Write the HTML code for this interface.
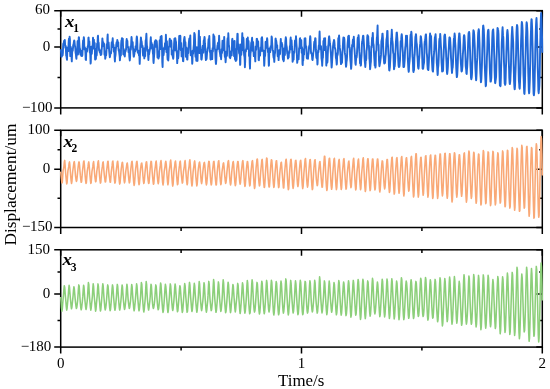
<!DOCTYPE html>
<html><head><meta charset="utf-8"><title>Displacement</title>
<style>html,body{margin:0;padding:0;background:#fff;width:550px;height:389px;overflow:hidden}svg{display:block}</style>
</head><body>
<svg width="550" height="389" viewBox="0 0 550 389">
<rect x="60.7" y="10.65" width="481.60" height="97.25" fill="none" stroke="#000" stroke-width="1.5"/>
<path d="M54.20,10.65H60.7M542.3,10.65H536.30M54.20,47.12H60.7M542.3,47.12H536.30M54.20,107.90H60.7M542.3,107.90H536.30M57.50,28.88H60.7M542.3,28.88H539.10M57.50,77.51H60.7M542.3,77.51H539.10M60.70,107.90V114.40M60.70,10.65V16.65M301.50,107.90V114.40M301.50,10.65V16.65M542.30,107.90V114.40M542.30,10.65V16.65M181.10,107.90V111.30M181.10,10.65V13.85M421.90,107.90V111.30M421.90,10.65V13.85" stroke="#000" stroke-width="1.5" fill="none"/>
<text x="50.1" y="14.35" text-anchor="end" style="font-family:'Liberation Serif',serif;font-size:15px">60</text>
<text x="50.2" y="50.82" text-anchor="end" style="font-family:'Liberation Serif',serif;font-size:15px">0</text>
<text x="52.4" y="111.60" text-anchor="end" style="font-family:'Liberation Serif',serif;font-size:15px">−<tspan dx="-0.5">100</tspan></text>
<text x="64.9" y="26.65" textLength="9.4" lengthAdjust="spacingAndGlyphs" style="font-family:'Liberation Serif',serif;font-size:17px;font-weight:bold;font-style:italic">x</text><text x="73.30" y="32.05" style="font-family:'Liberation Serif',serif;font-size:11.5px;font-weight:bold">1</text>
<polyline fill="none" stroke="#2168d6" stroke-width="1.9" stroke-linejoin="round" points="60.7,49.2 60.9,50.1 61.2,53.4 61.4,56.6 61.7,56.8 61.9,56.2 62.1,55.1 62.4,54.4 62.6,55.4 62.9,52.9 63.1,46.1 63.3,43.7 63.6,45 63.8,42.5 64.1,40.8 64.3,43.4 64.6,43 64.8,39.9 65,43 65.3,47.8 65.5,46.6 65.8,46 66,51.6 66.2,55.6 66.5,55.8 66.7,58.2 67,59.9 67.2,54.3 67.4,47.6 67.7,48.1 67.9,51 68.2,51.1 68.4,48.8 68.6,43.5 68.9,38.7 69.1,40.2 69.4,41.4 69.6,36.7 69.9,39 70.1,51.8 70.3,56.1 70.6,48.7 70.8,46.9 71.1,51.3 71.3,53 71.5,56.7 71.8,61.4 72,56.5 72.3,48.6 72.5,48.9 72.7,51 73,48 73.2,45.1 73.5,44.4 73.7,43.3 73.9,41.8 74.2,40.5 74.4,40.8 74.7,43.9 74.9,46 75.1,46.2 75.4,49.2 75.6,52.9 75.9,54.2 76.1,56.8 76.4,58.9 76.6,55.6 76.8,53.1 77.1,54 77.3,48.8 77.6,41.1 77.8,45.4 78,54.5 78.3,51.8 78.5,42.1 78.8,37.1 79,37.3 79.2,40.8 79.5,46 79.7,48 80,48.8 80.2,52.7 80.4,54.5 80.7,51.5 80.9,51.8 81.2,55.7 81.4,54.6 81.6,50.8 81.9,52.4 82.1,56.1 82.4,55 82.6,49.3 82.9,42.9 83.1,40.4 83.3,42.2 83.6,41.3 83.8,37.1 84.1,39.2 84.3,46.9 84.5,49.4 84.8,47.3 85,47.8 85.3,50.3 85.5,54 85.7,59.6 86,60 86.2,53.4 86.5,48.9 86.7,50.2 86.9,51.7 87.2,50.9 87.4,48.6 87.7,46.5 87.9,46.4 88.2,44 88.4,37.9 88.6,37.6 88.9,43 89.1,43 89.4,41.5 89.6,47.7 89.8,52.4 90.1,50.8 90.3,54.9 90.6,63.6 90.8,62.2 91,52 91.3,46.6 91.5,49.9 91.8,53.8 92,51 92.2,46.6 92.5,47.5 92.7,45.2 93,37.7 93.2,40.2 93.4,48.6 93.7,44.9 93.9,39.7 94.2,45.8 94.4,47.1 94.7,43 94.9,51.5 95.1,59.6 95.4,53.7 95.6,52.9 95.9,58.9 96.1,53.3 96.3,48.7 96.6,55.7 96.8,53.8 97.1,43.6 97.3,44.6 97.5,45.6 97.8,36.7 98,35.8 98.3,42.5 98.5,42.3 98.7,42.8 99,49.6 99.2,50.9 99.5,49.4 99.7,52.2 100,52.6 100.2,50.6 100.4,53.1 100.7,55.1 100.9,53.9 101.2,54.6 101.4,54.3 101.6,50.3 101.9,47.3 102.1,43.5 102.4,38.4 102.6,40.5 102.8,46.1 103.1,44.7 103.3,42.1 103.6,45 103.8,45.3 104,43.6 104.3,48.8 104.5,54.7 104.8,53.4 105,53.7 105.2,58.8 105.5,57.6 105.7,51.2 106,51.8 106.2,55.2 106.5,50 106.7,44.1 106.9,47.5 107.2,47.9 107.4,38.2 107.7,34.4 107.9,43.1 108.1,48.1 108.4,43.9 108.6,42.4 108.9,46.6 109.1,50 109.3,52.1 109.6,55.2 109.8,57.2 110.1,56.1 110.3,53.7 110.5,52.8 110.8,53.5 111,53.4 111.3,50.6 111.5,45.6 111.7,42.2 112,43.8 112.2,45.6 112.5,41.1 112.7,38.2 113,44 113.2,47.3 113.4,44.5 113.7,47.2 113.9,51.8 114.2,48.1 114.4,47.8 114.6,57.3 114.9,61.5 115.1,57.5 115.4,55.9 115.6,54.1 115.8,49.6 116.1,47 116.3,44.4 116.6,42.3 116.8,45.7 117,46.1 117.3,39.9 117.5,40.7 117.8,46.2 118,43.8 118.3,42.4 118.5,48.7 118.7,50.6 119,49.2 119.2,52.6 119.5,55.2 119.7,56.9 119.9,60.4 120.2,57.1 120.4,51.1 120.7,54.8 120.9,55.5 121.1,45 121.4,40.5 121.6,42.4 121.9,38.1 122.1,38.1 122.3,44.9 122.6,42.3 122.8,38.8 123.1,48.3 123.3,54.3 123.5,49.1 123.8,49.2 124,54.4 124.3,54.9 124.5,55.4 124.8,56.5 125,53.3 125.2,51 125.5,51.6 125.7,50.6 126,49.6 126.2,47.3 126.4,41.5 126.7,39 126.9,41.1 127.2,40.6 127.4,41.3 127.6,46.3 127.9,47.5 128.1,46.8 128.4,50.8 128.6,52.3 128.8,49.5 129.1,51.5 129.3,56.4 129.6,59.1 129.8,60.5 130.1,57.1 130.3,48.7 130.5,46.4 130.8,49.9 131,47.6 131.3,40.5 131.5,37 131.7,38.5 132,43.3 132.2,46.1 132.5,43.4 132.7,42.1 132.9,46.5 133.2,51.1 133.4,53.9 133.7,56.6 133.9,56.7 134.1,55.2 134.4,54.1 134.6,51 134.9,49.2 135.1,51.6 135.3,50.7 135.6,46.2 135.8,47.3 136.1,49.5 136.3,44.4 136.6,38.3 136.8,36.5 137,37.3 137.3,42.4 137.5,49.8 137.8,52.6 138,51.9 138.2,51 138.5,50.8 138.7,53.7 139,55.5 139.2,53.1 139.4,56.3 139.7,63.9 139.9,59.4 140.2,47.6 140.4,44.2 140.6,42.5 140.9,37.4 141.1,38.7 141.4,42.6 141.6,41.3 141.8,43.1 142.1,47.3 142.3,45.6 142.6,46 142.8,52.5 143.1,55.6 143.3,55.4 143.5,53.7 143.8,48.7 144,50.2 144.3,58.4 144.5,55.5 144.7,48.2 145,53.7 145.2,56.2 145.5,45.2 145.7,40.3 145.9,42.2 146.2,36.3 146.4,33.8 146.7,41.9 146.9,45.9 147.1,46.1 147.4,50.4 147.6,51.3 147.9,49.6 148.1,55.2 148.4,60 148.6,56.7 148.8,54 149.1,54.3 149.3,52.8 149.6,51.3 149.8,50.4 150,48.8 150.3,46.5 150.5,41.3 150.8,37.3 151,41.6 151.2,45.9 151.5,42.8 151.7,43.2 152,48.6 152.2,47.3 152.4,44.8 152.7,49.4 152.9,53.1 153.2,54.9 153.4,60.9 153.6,63 153.9,58.3 154.1,55.7 154.4,52.3 154.6,43.9 154.9,41.3 155.1,44.8 155.3,42.9 155.6,40.1 155.8,44.3 156.1,46.8 156.3,43.3 156.5,40.8 156.8,41.6 157,45 157.3,52.4 157.5,57.5 157.7,54.5 158,51.1 158.2,54.5 158.5,58.6 158.7,57.8 158.9,57.1 159.2,56 159.4,48.1 159.7,40.3 159.9,44.2 160.2,49.1 160.4,42.1 160.6,36.8 160.9,43.7 161.1,46.9 161.4,39.3 161.6,36 161.8,42.2 162.1,51.8 162.3,62.4 162.6,67 162.8,58.7 163,49.3 163.3,50.8 163.5,55.3 163.8,53.3 164,48.6 164.2,47.5 164.5,49.4 164.7,48 165,43.2 165.2,44 165.4,47.6 165.7,41.6 165.9,34.7 166.2,42.3 166.4,52 166.7,47.6 166.9,41.2 167.1,46.7 167.4,56.1 167.6,59.5 167.9,58.7 168.1,59.3 168.3,60.5 168.6,55.8 168.8,47.6 169.1,46.1 169.3,46.5 169.5,40.6 169.8,38.6 170,44.2 170.3,43.6 170.5,40.2 170.7,45.2 171,47 171.2,40.5 171.5,43.6 171.7,54.5 171.9,54.8 172.2,50.5 172.4,53.4 172.7,56.5 172.9,57.2 173.2,58.9 173.4,57.1 173.6,52.1 173.9,49.1 174.1,43.8 174.4,38.8 174.6,44.2 174.8,50.2 175.1,44.2 175.3,38.1 175.6,40.3 175.8,41.4 176,41.9 176.3,48.1 176.5,52 176.8,51.4 177,56.8 177.2,63.1 177.5,58.3 177.7,51.5 178,54.3 178.2,58.3 178.5,55.7 178.7,51.4 178.9,45.2 179.2,36 179.4,36.2 179.7,47 179.9,47.4 180.1,35.6 180.4,36 180.6,48.9 180.9,50.3 181.1,42.9 181.3,47.3 181.6,56.4 181.8,54 182.1,48.4 182.3,50.7 182.5,54.9 182.8,57.4 183,61.1 183.3,61.2 183.5,53.2 183.7,43.8 184,40 184.2,38.7 184.5,36.9 184.7,38.6 185,43.6 185.2,44.1 185.4,42.1 185.7,47.8 185.9,56.7 186.2,54.9 186.4,47.5 186.6,48 186.9,54.8 187.1,59.4 187.4,59.6 187.6,55.7 187.8,52.2 188.1,53.3 188.3,52.9 188.6,47.5 188.8,43.6 189,41.3 189.3,38.5 189.5,40.8 189.8,44.5 190,38.8 190.3,35.4 190.5,46.5 190.7,55.2 191,51.5 191.2,51.1 191.5,54.8 191.7,52.6 191.9,54.6 192.2,63.8 192.4,62 192.7,51.5 192.9,50.5 193.1,53.9 193.4,51 193.6,47.7 193.9,44.6 194.1,37.4 194.3,33 194.6,33.8 194.8,34.5 195.1,41.1 195.3,53.9 195.5,56.8 195.8,51.4 196,54.6 196.3,60.7 196.5,54.9 196.8,47.2 197,51.7 197.2,60.6 197.5,60.9 197.7,53.7 198,48.9 198.2,50.5 198.4,48.3 198.7,36.2 198.9,30.8 199.2,43.3 199.4,53 199.6,44.7 199.9,36.8 200.1,42.9 200.4,49.9 200.6,49.3 200.8,50.1 201.1,55.5 201.3,59.4 201.6,59.7 201.8,58.1 202,55.8 202.3,52.2 202.5,47.6 202.8,45.7 203,49.6 203.3,52.6 203.5,47.5 203.7,40.8 204,40 204.2,39.7 204.5,36.9 204.7,38.1 204.9,43.2 205.2,46.8 205.4,51.2 205.7,57.8 205.9,60.1 206.1,58.3 206.4,58.8 206.6,59 206.9,55 207.1,51.8 207.3,51 207.6,48.9 207.8,47.9 208.1,47.8 208.3,43.2 208.6,39.1 208.8,40.9 209,39.8 209.3,36 209.5,42.4 209.8,52 210,50.8 210.2,50.6 210.5,59.2 210.7,59.6 211,51 211.2,50.7 211.4,54.3 211.7,52.5 211.9,54.6 212.2,59.1 212.4,53.5 212.6,48.1 212.9,51.4 213.1,46.8 213.4,34.5 213.6,36.1 213.8,45.8 214.1,42.8 214.3,36.3 214.6,41.4 214.8,48.6 215.1,49.6 215.3,52 215.5,58.3 215.8,63 216,64 216.3,60.2 216.5,53.2 216.7,49.6 217,50 217.2,48.4 217.5,45.4 217.7,44.5 217.9,43.3 218.2,42.5 218.4,46.6 218.7,48.9 218.9,41.5 219.1,35.8 219.4,42.6 219.6,51.2 219.9,52.6 220.1,53.9 220.4,56.3 220.6,54.9 220.8,55.4 221.1,59.3 221.3,56 221.6,49.2 221.8,51.1 222,52.9 222.3,44.8 222.5,40.8 222.8,48.2 223,50.4 223.2,42.9 223.5,40.8 223.7,44.5 224,41.6 224.2,36.9 224.4,43.6 224.7,55 224.9,56.9 225.2,54.4 225.4,58.3 225.6,62.3 225.9,58.1 226.1,52.3 226.4,51.5 226.6,53.7 226.9,55.9 227.1,52.2 227.3,42 227.6,38.2 227.8,43.2 228.1,40.9 228.3,33.3 228.5,37 228.8,45.1 229,45.5 229.3,48.2 229.5,56.2 229.7,57.4 230,55.7 230.2,58.2 230.5,57.1 230.7,52.1 230.9,51.6 231.2,53.2 231.4,54 231.7,55.4 231.9,50.3 232.1,40 232.4,38.8 232.6,44.9 232.9,46.5 233.1,44.3 233.4,41.6 233.6,41.5 233.8,50.4 234.1,56.3 234.3,46.3 234.6,41 234.8,52.9 235,59.2 235.3,56 235.5,60.5 235.8,60.9 236,49.3 236.2,49 236.5,59.9 236.7,56.7 237,44 237.2,38 237.4,33.8 237.7,33.9 237.9,43.8 238.2,48.9 238.4,44.2 238.7,44.3 238.9,50.2 239.1,53.2 239.4,53.8 239.6,53.7 239.9,56.7 240.1,64.9 240.3,64.2 240.6,50.2 240.8,44.4 241.1,52.1 241.3,54.7 241.5,51.6 241.8,49.3 242,40.5 242.3,33.1 242.5,41.3 242.7,50.1 243,44.5 243.2,37.5 243.5,38.9 243.7,44.4 243.9,51.7 244.2,55.9 244.4,55.4 244.7,60.3 244.9,67.3 245.2,61.1 245.4,50.3 245.6,50.1 245.9,51.7 246.1,48.9 246.4,48.3 246.6,45.3 246.8,38.9 247.1,42.2 247.3,48.8 247.6,43.3 247.8,37.5 248,43.1 248.3,45 248.5,40.9 248.8,46.6 249,55.9 249.2,54.2 249.5,53.2 249.7,63.3 250,68.6 250.2,60.6 250.5,53.3 250.7,52.3 250.9,48.9 251.2,43.1 251.4,42.1 251.7,42.9 251.9,39.6 252.1,37.8 252.4,44.2 252.6,50.7 252.9,47.5 253.1,42 253.3,45.4 253.6,53.2 253.8,56.1 254.1,55.9 254.3,56 254.5,53.8 254.8,52.5 255,57.7 255.3,61.4 255.5,54.4 255.7,46.5 256,48 256.2,49.8 256.5,44.2 256.7,38.9 257,38.7 257.2,39.7 257.4,42.6 257.7,46 257.9,43.6 258.2,41.4 258.4,49.5 258.6,59.9 258.9,60.3 259.1,56.3 259.4,55.5 259.6,55.6 259.8,55.7 260.1,55.5 260.3,51.2 260.6,47.4 260.8,50.3 261,51.3 261.3,44 261.5,38.1 261.8,38 262,37.2 262.2,38.6 262.5,46 262.7,50.9 263,50.2 263.2,51 263.5,51.7 263.7,50.7 263.9,56.5 264.2,65.7 264.4,63.5 264.7,54.8 264.9,54.3 265.1,56 265.4,49.5 265.6,42 265.9,41.9 266.1,45.7 266.3,47.8 266.6,45.7 266.8,40.9 267.1,38.1 267.3,39.4 267.5,43.8 267.8,49.4 268,52.2 268.3,52.1 268.5,57 268.8,65.8 269,65.1 269.2,54.6 269.5,48.4 269.7,49.6 270,51.7 270.2,52.1 270.4,49.7 270.7,46.1 270.9,46.7 271.2,47.7 271.4,42.2 271.6,36.4 271.9,37.8 272.1,42.1 272.4,46.2 272.6,50.2 272.8,50.8 273.1,50.8 273.3,55.1 273.6,57.6 273.8,56 274,58.5 274.3,61.9 274.5,57.9 274.8,53.6 275,53.3 275.3,47.5 275.5,38.9 275.7,38.5 276,41.3 276.2,40.7 276.5,42.8 276.7,46.9 276.9,45.8 277.2,45.3 277.4,51.6 277.7,56.3 277.9,53.4 278.1,51.6 278.4,56.6 278.6,60.1 278.9,55.5 279.1,50.1 279.3,51.3 279.6,54.5 279.8,54.4 280.1,53.3 280.3,49.6 280.6,41.8 280.8,38.9 281,43.8 281.3,45.8 281.5,42.8 281.8,42.9 282,44.5 282.2,44.2 282.5,48.3 282.7,57 283,59.7 283.2,55.9 283.4,56.2 283.7,61.2 283.9,59.9 284.2,51.3 284.4,48.3 284.6,53.9 284.9,55 285.1,47.2 285.4,41.1 285.6,39.3 285.8,37.3 286.1,39 286.3,44.3 286.6,46.1 286.8,47.2 287.1,52 287.3,54 287.5,53.6 287.8,56.9 288,58.6 288.3,56.6 288.5,57.6 288.7,57.4 289,52.1 289.2,50.9 289.5,53 289.7,49.5 289.9,46.1 290.2,45.9 290.4,40.2 290.7,37.5 290.9,46.2 291.1,49.2 291.4,41.2 291.6,40.5 291.9,46.7 292.1,48.1 292.3,52.8 292.6,61.8 292.8,61 293.1,55.5 293.3,57.9 293.6,59.6 293.8,54.3 294,51.4 294.3,52.9 294.5,50.8 294.8,44.3 295,40.5 295.2,42.8 295.5,45.2 295.7,40.8 296,36.3 296.2,39 296.4,43.2 296.7,47.1 296.9,55.7 297.2,62.9 297.4,61.3 297.6,57.9 297.9,56.9 298.1,56.1 298.4,57.9 298.6,59.4 298.9,53.6 299.1,48.1 299.3,48.5 299.6,45.5 299.8,38.8 300.1,38.2 300.3,42.5 300.5,46.5 300.8,48.2 301,43.5 301.3,40.3 301.5,48 301.7,52.8 302,47.3 302.2,51 302.5,64.1 302.7,65.1 302.9,59.4 303.2,60.6 303.4,57.5 303.7,49.2 303.9,51.1 304.1,54.5 304.4,46 304.6,38.5 304.9,39.4 305.1,38.9 305.4,38.3 305.6,43.6 305.8,47.6 306.1,46.1 306.3,46.7 306.6,52.2 306.8,57.9 307,58.5 307.3,54.9 307.5,54.6 307.8,58.4 308,58.7 308.2,55.6 308.5,53.9 308.7,51.7 309,47.4 309.2,45.9 309.4,46.5 309.7,44.3 309.9,39.7 310.2,36.2 310.4,37.2 310.7,43.9 310.9,50.8 311.1,53.1 311.4,53.3 311.6,53.9 311.9,54.6 312.1,56.8 312.3,59.7 312.6,60 312.8,57.8 313.1,54.9 313.3,52.5 313.5,51.7 313.8,50.1 314,45.2 314.3,41.8 314.5,42.7 314.7,42.8 315,40.2 315.2,38.2 315.5,38.3 315.7,42.3 315.9,49.9 316.2,55.6 316.4,57.7 316.7,58.4 316.9,57.6 317.2,59.1 317.4,64.5 317.6,63.2 317.9,53.8 318.1,50.5 318.4,52.3 318.6,48.4 318.8,45.5 319.1,46.2 319.3,39.2 319.6,31.5 319.8,37 320,45.7 320.3,47.8 320.5,49.4 320.8,48.9 321,46.1 321.2,50.8 321.5,58.4 321.7,59.7 322,62.1 322.2,65.8 322.4,61.4 322.7,57.3 322.9,57.9 323.2,50.5 323.4,40.9 323.7,43 323.9,44 324.1,38.4 324.4,42.9 324.6,50.1 324.9,43.2 325.1,38.1 325.3,45.9 325.6,48.8 325.8,46.4 326.1,55.3 326.3,65.6 326.5,62.7 326.8,57.3 327,59.6 327.3,62.7 327.5,61.1 327.7,55.9 328,49.6 328.2,46 328.5,44.5 328.7,40.9 329,36.8 329.2,36.3 329.4,38.3 329.7,40.8 329.9,43.5 330.2,45.2 330.4,46.7 330.6,49.7 330.9,53.4 331.1,57.9 331.4,63.6 331.6,67.5 331.8,66.1 332.1,61.5 332.3,57.3 332.6,54.1 332.8,50.6 333,46.7 333.3,43.9 333.5,42.4 333.8,41.1 334,39.9 334.2,40.3 334.5,43.1 334.7,46.4 335,48.3 335.2,48.7 335.5,50.3 335.7,54.5 335.9,58 336.2,58.9 336.4,60.9 336.7,64.6 336.9,63.5 337.1,56.9 337.4,53.3 337.6,55.2 337.9,52.9 338.1,43.9 338.3,38.1 338.6,38.5 338.8,37.6 339.1,35.5 339.3,38.9 339.5,45.2 339.8,47.9 340,49.2 340.3,52.3 340.5,56.6 340.8,61.7 341,64.1 341.2,60 341.5,56.6 341.7,60.2 342,62.8 342.2,57.8 342.4,52 342.7,49.5 342.9,45.2 343.2,39.5 343.4,37.5 343.6,38.7 343.9,38.9 344.1,37.7 344.4,39.5 344.6,45.9 344.8,52.4 345.1,54.5 345.3,55.1 345.6,58.8 345.8,64.1 346,66.7 346.3,65.2 346.5,62 346.8,60 347,57.4 347.3,51.5 347.5,45.8 347.7,42.9 348,39.5 348.2,36.4 348.5,36.1 348.7,35.6 348.9,35.6 349.2,41.4 349.4,47.4 349.7,47.4 349.9,49 350.1,56 350.4,60.5 350.6,62.3 350.9,66.3 351.1,68.9 351.3,67.1 351.6,62 351.8,52.7 352.1,44.9 352.3,45.7 352.5,46.4 352.8,40.8 353,39.4 353.3,43.6 353.5,41.6 353.8,36.7 354,40.2 354.2,46.8 354.5,49.4 354.7,52.3 355,56.8 355.2,60.2 355.4,63.4 355.7,64.9 355.9,61.5 356.2,57.6 356.4,57.5 356.6,57.7 356.9,54.9 357.1,50.5 357.4,45.2 357.6,39.9 357.8,37.7 358.1,38.5 358.3,37.7 358.6,35.2 358.8,37.8 359.1,45.9 359.3,51.4 359.5,53.5 359.8,58.6 360,63.2 360.3,62.1 360.5,61.8 360.7,65.6 361,65 361.2,59.6 361.5,55.9 361.7,51.6 361.9,44.7 362.2,41 362.4,40.5 362.7,38.8 362.9,36.6 363.1,35.6 363.4,35.9 363.6,39.3 363.9,43.7 364.1,47 364.3,52.5 364.6,58.9 364.8,61.6 365.1,64.2 365.3,67 365.6,63.1 365.8,58.7 366,60.6 366.3,58.7 366.5,51.2 366.8,49.1 367,46.8 367.2,37.6 367.5,35.1 367.7,40.9 368,39.5 368.2,36.1 368.4,41 368.7,44.7 368.9,45.4 369.2,52.3 369.4,58.8 369.6,59.8 369.9,64.4 370.1,69.2 370.4,66.4 370.6,63.8 370.9,61.6 371.1,52.7 371.3,46.5 371.6,47.5 371.8,43.6 372.1,37.7 372.3,39 372.5,37.7 372.8,32.9 373,37.4 373.3,44.7 373.5,44 373.7,45.7 374,52.6 374.2,56.7 374.5,61.2 374.7,65.5 374.9,62.1 375.2,60.9 375.4,67.6 375.7,65.3 375.9,53.9 376.1,51.1 376.4,50.8 376.6,42.4 376.9,37.3 377.1,37 377.4,29.9 377.6,25.5 377.8,35.1 378.1,44.4 378.3,44 378.6,45.1 378.8,52.6 379,60.4 379.3,65.2 379.5,66.2 379.8,64.4 380,63.2 380.2,62 380.5,59.5 380.7,57.8 381,54.9 381.2,47.9 381.4,41.5 381.7,39.8 381.9,39 382.2,36.3 382.4,33.6 382.6,33.7 382.9,38.1 383.1,45.7 383.4,52.2 383.6,56 383.9,59.4 384.1,62.5 384.3,63.5 384.6,63.3 384.8,63.3 385.1,62.2 385.3,59.2 385.5,56.4 385.8,54.3 386,49.6 386.3,42.7 386.5,39 386.7,38.7 387,35.8 387.2,30.9 387.5,30.9 387.7,36.8 387.9,43.9 388.2,49.4 388.4,53.3 388.7,57.8 388.9,64.9 389.2,70.2 389.4,70.5 389.6,69 389.9,66.8 390.1,62.7 390.4,58 390.6,52.8 390.8,45.5 391.1,40.3 391.3,38.2 391.6,33.7 391.8,29.7 392,33.9 392.3,40.3 392.5,41.4 392.8,44.3 393,51 393.2,53 393.5,53.8 393.7,61.7 394,69.3 394.2,68.7 394.4,66.3 394.7,66.4 394.9,64.2 395.2,58.4 395.4,52.7 395.7,47.5 395.9,42.9 396.1,39.6 396.4,36 396.6,32.7 396.9,32.6 397.1,35.2 397.3,38.1 397.6,42.6 397.8,49.8 398.1,56.5 398.3,61.2 398.5,64.8 398.8,66.8 399,67 399.3,66.8 399.5,65.8 399.7,63.5 400,60.1 400.2,54.4 400.5,46.6 400.7,41.2 401,40.3 401.2,39.4 401.4,36.4 401.7,34.1 401.9,35.2 402.2,40.2 402.4,46.1 402.6,49.3 402.9,52.8 403.1,60.6 403.4,67 403.6,67.1 403.8,66.4 404.1,66.8 404.3,64.7 404.6,61.2 404.8,57.7 405,51.8 405.3,47.1 405.5,45.8 405.8,41.6 406,35.8 406.2,36.7 406.5,39.2 406.7,36.1 407,35.7 407.2,42.9 407.5,49.6 407.7,54.2 407.9,60.4 408.2,65.9 408.4,69.4 408.7,71.9 408.9,70.5 409.1,65.5 409.4,62.6 409.6,61 409.9,56.1 410.1,47.8 410.3,39.3 410.6,34.8 410.8,34.7 411.1,34 411.3,31.6 411.5,32.7 411.8,37.7 412,43.9 412.3,51.1 412.5,56.4 412.7,58.6 413,63.6 413.2,70.6 413.5,72.1 413.7,70.8 414,70.3 414.2,64.9 414.4,57.2 414.7,54.2 414.9,50 415.2,41.1 415.4,36.7 415.6,36.5 415.9,34.1 416.1,34.9 416.4,40.8 416.6,43.3 416.8,43.8 417.1,49.1 417.3,55 417.6,58.2 417.8,62.2 418,66.3 418.3,68.3 418.5,68.7 418.8,65.8 419,60.5 419.3,57.1 419.5,54.1 419.7,49 420,45.6 420.2,43.9 420.5,39.8 420.7,36.1 420.9,36.5 421.2,38.6 421.4,41.2 421.7,44.4 421.9,47.7 422.1,53.9 422.4,63.1 422.6,68.5 422.9,68.9 423.1,68.9 423.3,67.8 423.6,64.7 423.8,63.9 424.1,62.5 424.3,54.4 424.5,44.7 424.8,41 425,40.5 425.3,38.6 425.5,36.2 425.8,34.5 426,34.3 426.2,38.5 426.5,46.5 426.7,52.8 427,55.1 427.2,58.3 427.4,64.6 427.7,68.9 427.9,69.5 428.2,69.8 428.4,70 428.6,66.8 428.9,61.3 429.1,55.3 429.4,48.8 429.6,42.6 429.8,37.1 430.1,33.5 430.3,35.1 430.6,38.4 430.8,37 431.1,36.1 431.3,44 431.5,53.6 431.8,57.6 432,61.4 432.3,67.1 432.5,70.1 432.7,71 433,71.6 433.2,68.6 433.5,62.8 433.7,58.2 433.9,54.8 434.2,51.2 434.4,46.1 434.7,39.8 434.9,37.1 435.1,37.7 435.4,35.4 435.6,34.2 435.9,40.5 436.1,47.6 436.3,50.6 436.6,55.9 436.8,63 437.1,66.3 437.3,70.1 437.6,75 437.8,73.7 438,68.5 438.3,66 438.5,62.9 438.8,56.1 439,48.4 439.2,41.6 439.5,38.6 439.7,39.9 440,38.2 440.2,33.9 440.4,36.1 440.7,42.6 440.9,46 441.2,50.3 441.4,57.7 441.6,62.9 441.9,67.1 442.1,71.5 442.4,71.3 442.6,69.5 442.8,71.4 443.1,70 443.3,62.1 443.6,55.6 443.8,50.6 444.1,42.6 444.3,36.4 444.5,35.2 444.8,34.6 445,34.7 445.3,38.3 445.5,42.5 445.7,45.8 446,50.7 446.2,56.8 446.5,61.9 446.7,67.1 446.9,72.2 447.2,74 447.4,72.2 447.7,69.5 447.9,66.4 448.1,60.9 448.4,54.8 448.6,50.7 448.9,46.9 449.1,41.4 449.4,37.5 449.6,37.3 449.8,37.6 450.1,38.3 450.3,41.8 450.6,46.9 450.8,52 451,57.5 451.3,62 451.5,65.8 451.8,70.7 452,73 452.2,70.4 452.5,68.1 452.7,67.4 453,62.9 453.2,55.5 453.4,49 453.7,43 453.9,38.8 454.2,37.7 454.4,36 454.6,33.5 454.9,35.9 455.1,41.7 455.4,45.9 455.6,50.6 455.9,57.9 456.1,64.1 456.3,69.2 456.6,74.4 456.8,77.1 457.1,76.2 457.3,74 457.5,69.9 457.8,63.2 458,55.7 458.3,48.9 458.5,43.3 458.7,39.5 459,36 459.2,33.4 459.5,33.6 459.7,35.9 459.9,39.2 460.2,45.3 460.4,53.4 460.7,59.5 460.9,63.4 461.2,67.2 461.4,70.5 461.6,71.6 461.9,71.1 462.1,69.7 462.4,66.6 462.6,61.1 462.8,55.2 463.1,51.3 463.3,47.5 463.6,41.5 463.8,36.6 464,35.3 464.3,35.3 464.5,36.8 464.8,41.5 465,46.5 465.2,51.1 465.5,58.5 465.7,65.8 466,68.4 466.2,70 466.4,73.5 466.7,73.9 466.9,70.4 467.2,66.8 467.4,62.7 467.7,56.8 467.9,50.5 468.1,43.6 468.4,36.4 468.6,32.9 468.9,32.4 469.1,31.9 469.3,32.9 469.6,37.9 469.8,44.7 470.1,51.8 470.3,59.3 470.5,66.1 470.8,72.4 471,77.7 471.3,79.4 471.5,78.4 471.7,77.6 472,74 472.2,65.7 472.5,57.7 472.7,51.3 472.9,42.5 473.2,33.6 473.4,30.3 473.7,30.7 473.9,31.7 474.2,34.9 474.4,39.3 474.6,43.1 474.9,49.9 475.1,60.7 475.4,68.7 475.6,71.7 475.8,75.6 476.1,80.2 476.3,79.2 476.6,72.9 476.8,66.8 477,62.1 477.3,57.4 477.5,51.8 477.8,44.5 478,37 478.2,32.9 478.5,31 478.7,29.3 479,30.8 479.2,36.4 479.5,43 479.7,50.8 479.9,61 480.2,69.3 480.4,73.7 480.7,78.2 480.9,82.2 481.1,81.9 481.4,78.3 481.6,73.1 481.9,65.9 482.1,58.3 482.3,51.4 482.6,42.2 482.8,31.7 483.1,25.9 483.3,25.6 483.5,27.1 483.8,29.6 484,34.3 484.3,41.7 484.5,52.3 484.7,63.7 485,71.5 485.2,76.3 485.5,81.8 485.7,86.2 486,85.5 486.2,80.7 486.4,74.4 486.7,66.5 486.9,58.1 487.2,51 487.4,44 487.6,36.5 487.9,31.6 488.1,30.1 488.4,29.7 488.6,31.3 488.8,37.5 489.1,46.4 489.3,54.6 489.6,61.9 489.8,68.3 490,73.7 490.3,78.6 490.5,81.6 490.8,81.5 491,80.5 491.3,78 491.5,70.1 491.7,58.8 492,48.6 492.2,39.9 492.5,33.2 492.7,30.7 492.9,30.1 493.2,29.4 493.4,32.1 493.7,38.1 493.9,44 494.1,51.3 494.4,61.5 494.6,70.9 494.9,78.1 495.1,83 495.3,83.2 495.6,80.5 495.8,79.4 496.1,76.7 496.3,68.5 496.5,59.5 496.8,51.8 497,42.1 497.3,32.3 497.5,28 497.8,28.4 498,29.4 498.2,30.1 498.5,34.3 498.7,43.5 499,53 499.2,60.2 499.4,69.9 499.7,81 499.9,85.4 500.2,84.8 500.4,86.2 500.6,85.2 500.9,77.3 501.1,68 501.4,59.2 501.6,49.2 501.8,42 502.1,37.6 502.3,31.1 502.6,27.2 502.8,31 503,35.4 503.3,37.6 503.5,44.9 503.8,55.3 504,62.3 504.3,69.4 504.5,78.6 504.7,83.5 505,84.1 505.2,84.9 505.5,83.3 505.7,76.9 505.9,69.1 506.2,61 506.4,51.6 506.7,43.4 506.9,37.7 507.1,32.9 507.4,30 507.6,31.2 507.9,35.1 508.1,40.4 508.3,47.1 508.6,54.7 508.8,61.9 509.1,69.7 509.3,77.7 509.6,82.8 509.8,84.1 510,83.5 510.3,80.9 510.5,76 510.8,70.5 511,63.1 511.2,52.2 511.5,42 511.7,35.9 512,30.8 512.2,26.9 512.4,29.1 512.7,34.5 512.9,37.8 513.2,42.9 513.4,52.9 513.6,63.6 513.9,73.1 514.1,81.7 514.4,87.2 514.6,89.2 514.8,89.1 515.1,84.8 515.3,76.4 515.6,68.9 515.8,62.7 516.1,53.7 516.3,42.3 516.5,32.6 516.8,26.7 517,25 517.3,25.9 517.5,28.2 517.7,34.2 518,43.8 518.2,53.8 518.5,64.1 518.7,74.5 518.9,81 519.2,84.2 519.4,87.8 519.7,88.8 519.9,85.1 520.1,80.2 520.4,73.1 520.6,60.7 520.9,48.4 521.1,40.4 521.4,32.7 521.6,25.1 521.8,22 522.1,23.1 522.3,25.3 522.6,30.8 522.8,41.8 523,55.4 523.3,67.1 523.5,75.2 523.8,81.7 524,88.2 524.2,93.1 524.5,93.9 524.7,90 525,81.9 525.2,71.5 525.4,60.6 525.7,50 525.9,40.1 526.2,31.6 526.4,25.1 526.6,22.2 526.9,23.4 527.1,26.5 527.4,31.6 527.6,41.8 527.9,54.6 528.1,64.9 528.3,73.8 528.6,83.4 528.8,90.6 529.1,93.3 529.3,92.4 529.5,87.8 529.8,80.5 530,72 530.3,61.5 530.5,49.6 530.7,39.4 531,30.8 531.2,23.1 531.5,19.1 531.7,19.6 531.9,23 532.2,30.1 532.4,40.8 532.7,52.6 532.9,64.7 533.1,77.4 533.4,87.9 533.6,93.8 533.9,95.4 534.1,93.8 534.4,90 534.6,83.8 534.8,74 535.1,61.7 535.3,49.4 535.6,38.8 535.8,31.2 536,25.7 536.3,19.9 536.5,18 536.8,24.2 537,33.7 537.2,42.4 537.5,54 537.7,67.1 538,76 538.2,83.1 538.4,90.7 538.7,93.2 538.9,90.3 539.2,88.3 539.4,85 539.7,75.1 539.9,61.5 540.1,49.3 540.4,37.9 540.6,26.8 540.9,17.6 541.1,13 541.3,14.8 541.6,20.6 541.8,28 542.1,38.7 542.3,52.7"/>
<rect x="60.7" y="130.3" width="481.60" height="97.20" fill="none" stroke="#000" stroke-width="1.5"/>
<path d="M54.20,130.30H60.7M542.3,130.30H536.30M54.20,169.18H60.7M542.3,169.18H536.30M54.20,227.50H60.7M542.3,227.50H536.30M57.50,149.74H60.7M542.3,149.74H539.10M57.50,198.34H60.7M542.3,198.34H539.10M60.70,227.50V234.00M60.70,130.30V136.30M301.50,227.50V234.00M301.50,130.30V136.30M542.30,227.50V234.00M542.30,130.30V136.30M181.10,227.50V230.90M181.10,130.30V133.50M421.90,227.50V230.90M421.90,130.30V133.50" stroke="#000" stroke-width="1.5" fill="none"/>
<text x="49.9" y="134.00" text-anchor="end" style="font-family:'Liberation Serif',serif;font-size:15px">100</text>
<text x="50.2" y="172.88" text-anchor="end" style="font-family:'Liberation Serif',serif;font-size:15px">0</text>
<text x="52.4" y="231.20" text-anchor="end" style="font-family:'Liberation Serif',serif;font-size:15px">−<tspan dx="-0.5">150</tspan></text>
<text x="63.4" y="146.50" textLength="9.4" lengthAdjust="spacingAndGlyphs" style="font-family:'Liberation Serif',serif;font-size:17px;font-weight:bold;font-style:italic">x</text><text x="71.50" y="151.90" style="font-family:'Liberation Serif',serif;font-size:11.5px;font-weight:bold">2</text>
<polyline fill="none" stroke="#f9a977" stroke-width="1.55" stroke-linejoin="round" points="60.7,171.6 61.1,175.7 61.5,179.3 61.9,183 62.3,182.4 62.7,176.3 63.1,170.5 63.5,168.7 63.9,166.6 64.3,162.2 64.7,160.4 65.1,164.9 65.5,171.5 65.9,176.2 66.3,180.4 66.7,184 67.1,182.8 67.5,176.5 67.9,170.9 68.3,168.8 68.7,166.9 69.1,163.3 69.5,161.9 69.9,165.2 70.3,170.8 70.7,176.1 71.1,180.7 71.5,183.5 71.9,181.9 72.3,176.6 72.7,171.5 73.1,168.5 73.5,165.7 73.9,162.5 74.3,161.6 74.7,164.9 75.1,170.6 75.5,175.8 76,179.5 76.4,181.4 76.8,180.4 77.2,176.6 77.6,172 78,168.2 78.4,164.9 78.8,162.1 79.2,162 79.6,165.7 80,171.2 80.4,175.9 80.8,179.6 81.2,182.3 81.6,181.7 82,177.2 82.4,172 82.8,168.4 83.2,165.2 83.6,161.7 84,161 84.4,165 84.8,171.2 85.2,176.4 85.6,180.6 86,183.5 86.4,182.4 86.8,176.9 87.2,171.4 87.6,168.8 88,166.7 88.4,163.2 88.8,161.9 89.2,165.5 89.6,171.3 90,176 90.4,180.1 90.8,183.4 91.2,182.5 91.6,176.7 92,171.1 92.4,168.9 92.8,166.9 93.2,163.1 93.6,161.6 94,165.5 94.4,171.5 94.8,175.8 95.2,179.1 95.6,181.8 96,181.2 96.4,176.4 96.8,171.4 97.2,168.7 97.6,165.9 98,161.9 98.4,160.7 98.8,164.9 99.2,171.5 99.6,176.4 100,180.2 100.4,183.1 100.8,182.1 101.2,176.9 101.6,171.6 102,168.9 102.4,166.2 102.8,162.6 103.2,161.9 103.6,166.2 104,171.9 104.4,175.8 104.8,179 105.2,182 105.6,181.8 106.1,177.1 106.5,171.8 106.9,168.5 107.3,165.2 107.7,161.5 108.1,161.2 108.5,166.2 108.9,172.1 109.3,175.6 109.7,178.7 110.1,182.1 110.5,182.1 110.9,177.3 111.3,171.8 111.7,168.6 112.1,165.7 112.5,161.9 112.9,161 113.3,165.3 113.7,171.6 114.1,176.4 114.5,180.3 114.9,183.1 115.3,182.1 115.7,177.1 116.1,171.9 116.5,168.6 116.9,165.5 117.3,162 117.7,161.2 118.1,164.9 118.5,171 118.9,176.7 119.3,181.3 119.7,184.1 120.1,182.8 120.5,177.7 120.9,172.2 121.3,168.4 121.7,165.5 122.1,162.8 122.5,162.3 122.9,165.5 123.3,170.9 123.7,176.3 124.1,180.7 124.5,182.9 124.9,181.5 125.3,176.7 125.7,172 126.1,169 126.5,166.5 126.9,163.6 127.3,163 127.7,166.2 128.1,171.4 128.5,176.1 128.9,180.2 129.3,182.9 129.7,182.2 130.1,177.7 130.5,172.4 130.9,168.4 131.3,165 131.7,161.8 132.1,161.4 132.5,165.2 132.9,171.2 133.3,177.3 133.7,182.5 134.1,185.4 134.5,183.8 134.9,178.4 135.3,172.6 135.7,168.4 136.2,164.8 136.6,161.7 137,161.3 137.4,165.1 137.8,171.1 138.2,177 138.6,182 139,184.7 139.4,183.4 139.8,178.4 140.2,172.7 140.6,168.6 141,165.6 141.4,163.3 141.8,163 142.2,166.1 142.6,171.3 143,176.6 143.4,181.1 143.8,183.5 144.2,182.3 144.6,177.8 145,172.7 145.4,168.7 145.8,165.2 146.2,162.1 146.6,161.7 147,165.5 147.4,171.5 147.8,176.8 148.2,180.8 148.6,183.4 149,183.1 149.4,178.9 149.8,173 150.2,168.1 150.6,164.2 151,161.3 151.4,161.6 151.8,166.1 152.2,172 152.6,176.8 153,180.9 153.4,184.2 153.8,183.7 154.2,178.4 154.6,172.4 155,168.9 155.4,166 155.8,162.3 156.2,161.1 156.6,165.1 157,171.6 157.4,177.1 157.8,181.2 158.2,183.7 158.6,182.3 159,177 159.4,171.8 159.8,168.8 160.2,165.9 160.6,162.1 161,160.6 161.4,164.2 161.8,170.9 162.2,177.3 162.6,182.4 163,185 163.4,182.9 163.8,176.9 164.2,171.5 164.6,168.9 165,166.6 165.4,162.9 165.8,161.2 166.3,164.5 166.7,170.8 167.1,176.8 167.5,181.8 167.9,184.8 168.3,182.9 168.7,176.9 169.1,171.4 169.5,168.7 169.9,166 170.3,161.8 170.7,160.1 171.1,163.9 171.5,170.8 171.9,177.4 172.3,182.8 172.7,186.1 173.1,184.4 173.5,177.9 173.9,171.6 174.3,168.4 174.7,165.8 175.1,162.2 175.5,161 175.9,164.9 176.3,171.3 176.7,176.8 177.1,181.4 177.5,184.8 177.9,183.9 178.3,178.1 178.7,171.8 179.1,168.3 179.5,165.4 179.9,161.8 180.3,161.1 180.7,165.5 181.1,171.8 181.5,176.3 181.9,180 182.3,183.1 182.7,182.3 183.1,176.7 183.5,171.4 183.9,169 184.3,166.5 184.7,162.2 185.1,160.6 185.5,164.9 185.9,171.6 186.3,177 186.7,181.4 187.1,184.7 187.5,183.4 187.9,177.2 188.3,171.4 188.7,168.8 189.1,166 189.5,161.5 189.9,159.8 190.3,164.1 190.7,171.3 191.1,177.5 191.5,182.6 191.9,186 192.3,184.5 192.7,178.1 193.1,171.8 193.5,168.6 193.9,166.1 194.3,162.3 194.7,160.9 195.1,164.6 195.5,171.1 195.9,177.2 196.4,182.5 196.8,185.9 197.2,184.4 197.6,178.3 198,172 198.4,168.4 198.8,165.7 199.2,162.9 199.6,162 200,164.9 200.4,170.6 200.8,176.8 201.2,181.7 201.6,183.6 202,181.6 202.4,177 202.8,172.3 203.2,168.7 203.6,165.7 204,163.2 204.4,162.4 204.8,164.9 205.2,170.4 205.6,177.1 206,182.6 206.4,184.9 206.8,183.3 207.2,178.6 207.6,172.9 208,167.9 208.4,164 208.8,161.4 209.2,161.5 209.6,165.2 210,171.2 210.4,177.2 210.8,182.1 211.2,185 211.6,183.9 212,178.8 212.4,172.8 212.8,168.4 213.2,164.8 213.6,161.5 214,161.4 214.4,165.9 214.8,172 215.2,176.7 215.6,181.1 216,185 216.4,184.8 216.8,179.2 217.2,172.5 217.6,168.1 218,164.8 218.4,161.4 218.8,160.7 219.2,165 219.6,171.5 220,177.1 220.4,181.7 220.8,184.7 221.2,183.4 221.6,177.8 222,172 222.4,168.9 222.8,166.6 223.2,163.7 223.6,162.9 224,166.1 224.4,171.4 224.8,176.4 225.2,180.7 225.6,183.4 226,182.4 226.5,177.7 226.9,172.4 227.3,168.4 227.7,164.8 228.1,161.3 228.5,160.6 228.9,164.5 229.3,171.1 229.7,177.4 230.1,182.4 230.5,185 230.9,183.6 231.3,178.4 231.7,172.6 232.1,168.7 232.5,165.5 232.9,162.4 233.3,161.5 233.7,164.9 234.1,171.2 234.5,177.6 234.9,182.9 235.3,185.7 235.7,184.4 236.1,179.1 236.5,172.9 236.9,168.1 237.3,164.4 237.7,161.6 238.1,161.6 238.5,165.4 238.9,171.4 239.3,177.2 239.7,181.8 240.1,184.2 240.5,182.8 240.9,178 241.3,172.7 241.7,168.8 242.1,165.2 242.5,161.5 242.9,160.6 243.3,164.6 243.7,171.5 244.1,178.1 244.5,183.4 244.9,186.5 245.3,185.3 245.7,179.8 246.1,173.2 246.5,168.3 246.9,164.5 247.3,161.6 247.7,161.7 248.1,166 248.5,172.2 248.9,177.7 249.3,182.5 249.7,185.9 250.1,185.1 250.5,179.4 250.9,173.1 251.3,168.7 251.7,165 252.1,161.3 252.5,160.6 252.9,164.9 253.3,171.9 253.7,178.6 254.1,184.6 254.5,188.5 254.9,187.1 255.3,180.6 255.7,173.2 256.1,167.7 256.6,163.1 257,159.2 257.4,159.1 257.8,164.2 258.2,171.7 258.6,178.1 259,183 259.4,186 259.8,184.9 260.2,179.2 260.6,172.9 261,168.5 261.4,164.5 261.8,160.2 262.2,159.4 262.6,164.4 263,172.1 263.4,178.5 263.8,183.6 264.2,187.5 264.6,187 265,181.1 265.4,173.7 265.8,167.7 266.2,162.4 266.6,158.1 267,158.4 267.4,164.6 267.8,172.5 268.2,178.5 268.6,183.3 269,187 269.4,187 269.8,181.7 270.2,174.1 270.6,167.9 271,163.1 271.4,159.7 271.8,160.2 272.2,165.4 272.6,172.6 273,178.8 273.4,184 273.8,187.4 274.2,186.2 274.6,180.3 275,173.5 275.4,168.8 275.8,164.7 276.2,160.9 276.6,160.7 277,165.8 277.4,172.7 277.8,178.3 278.2,183.4 278.6,187.6 279,186.9 279.4,180.3 279.8,173.1 280.2,169.2 280.6,166.3 281,162.7 281.4,162.2 281.8,166.7 282.2,173 282.6,178 283,183 283.4,188 283.8,188 284.2,181.4 284.6,173.4 285,168.3 285.4,164.3 285.8,160 286.2,159.2 286.7,164.5 287.1,172.3 287.5,179.3 287.9,185.4 288.3,189.7 288.7,188.7 289.1,182 289.5,174 289.9,168 290.3,163.3 290.7,159.6 291.1,159.2 291.5,163.9 291.9,171.7 292.3,179.6 292.7,185.7 293.1,188.4 293.5,186.4 293.9,180.7 294.3,174.1 294.7,168.6 295.1,164 295.5,160.6 295.9,160.3 296.3,164.4 296.7,171.6 297.1,179 297.5,184.3 297.9,186.5 298.3,184.7 298.7,179.6 299.1,173.6 299.5,168.7 299.9,164.7 300.3,161.1 300.7,160.2 301.1,164.2 301.5,171.6 301.9,179.3 302.3,185.4 302.7,188.6 303.1,186.6 303.5,180.1 303.9,173.2 304.3,168.5 304.7,164.1 305.1,159.5 305.5,158.5 305.9,163.5 306.3,171.7 306.7,179.1 307.1,184.5 307.5,187.2 307.9,185.4 308.3,179.8 308.7,173.5 309.1,168.4 309.5,163.8 309.9,159.9 310.3,159.5 310.7,164.3 311.1,172 311.5,179.4 311.9,185.6 312.3,189.6 312.7,188.6 313.1,182 313.5,173.9 313.9,168 314.3,163.8 314.7,160.2 315.1,159.7 315.5,164.8 315.9,172.6 316.3,178.8 316.8,183 317.2,185.7 317.6,184.9 318,179.5 318.4,173.4 318.8,169.3 319.2,165.7 319.6,162 320,161.6 320.4,166.5 320.8,173.1 321.2,178.3 321.6,183.1 322,187.2 322.4,187.1 322.8,181.6 323.2,174.1 323.6,167.5 324,161.3 324.4,156.3 324.8,156.2 325.2,162.7 325.6,172 326,180.3 326.4,186.7 326.8,190.5 327.2,189.2 327.6,182.5 328,174.2 328.4,167.7 328.8,162.6 329.2,158.5 329.6,158.2 330,163.4 330.4,171.8 330.8,179.9 331.2,186.1 331.6,189.3 332,187.4 332.4,180.9 332.8,173.6 333.2,168.2 333.6,163.5 334,159.1 334.4,158.3 334.8,163.5 335.2,171.8 335.6,179.6 336,186 336.4,189.6 336.8,187.6 337.2,180.4 337.6,173.1 338,168.7 338.4,164.9 338.8,160.6 339.2,159.4 339.6,164.2 340,172.1 340.4,179.1 340.8,185.2 341.2,189.4 341.6,188.1 342,180.8 342.4,173.1 342.8,168.3 343.2,164 343.6,159.3 344,158.6 344.4,164.3 344.8,172.5 345.2,179.2 345.6,184.9 346,189.2 346.4,188.2 346.9,181 347.3,173.4 347.7,169.1 348.1,165.8 348.5,162 348.9,161 349.3,165.6 349.7,172.9 350.1,179.1 350.5,184.1 350.9,187.7 351.3,186.6 351.7,180.2 352.1,173.2 352.5,168.8 352.9,164.7 353.3,159.7 353.7,158.3 354.1,164.1 354.5,172.8 354.9,179.7 355.3,185.4 355.7,189.9 356.1,188.8 356.5,181 356.9,172.8 357.3,168.7 357.7,165.3 358.1,160.4 358.5,159 358.9,164.5 359.3,172.9 359.7,179.6 360.1,185.3 360.5,189.7 360.9,188.3 361.3,180.7 361.7,173 362.1,168.7 362.5,164.5 362.9,159.1 363.3,157.7 363.7,163.3 364.1,172.4 364.5,180.5 364.9,187.3 365.3,191.5 365.7,189.8 366.1,182.4 366.5,174.2 366.9,168.1 367.3,163 367.7,158.8 368.1,158.8 368.5,164.3 368.9,172.4 369.3,180.2 369.7,186.7 370.1,190.6 370.5,189.2 370.9,182.6 371.3,174.8 371.7,168.5 372.1,163.1 372.5,158.9 372.9,158.9 373.3,164.4 373.7,172.5 374.1,180.2 374.5,186.3 374.9,189.9 375.3,188.7 375.7,182.7 376.1,175 376.5,168.4 377,163 377.4,159.1 377.8,159.1 378.2,164.1 378.6,172.4 379,181.3 379.4,188.6 379.8,192 380.2,189.8 380.6,183.2 381,175.4 381.4,169 381.8,164.1 382.2,160.9 382.6,161.1 383,165.7 383.4,173 383.8,180.2 384.2,185.9 384.6,188.9 385,187.6 385.4,182.1 385.8,175.2 386.2,169.1 386.6,163.7 387,159.6 387.4,159.5 387.8,164.9 388.2,173.2 388.6,181.1 389,187.9 389.4,192.4 389.8,191.3 390.2,183.8 390.6,174.9 391,168.3 391.4,162.8 391.8,157.8 392.2,157.2 392.6,163.6 393,173.2 393.4,181.7 393.8,188.9 394.2,194.1 394.6,192.7 395,184.2 395.4,174.6 395.8,168.2 396.2,163.2 396.6,158.4 397,157.6 397.4,163.6 397.8,173 398.2,181.8 398.6,189 399,193.3 399.4,191.6 399.8,183.7 400.2,174.7 400.6,168.1 401,162.7 401.4,157.6 401.8,156.5 402.2,162.3 402.6,172.4 403,182.7 403.4,191.2 403.8,196 404.2,193.8 404.6,184.8 405,174.8 405.4,167.9 405.8,162.6 406.2,158 406.6,157.7 407.1,164 407.5,173.1 407.9,181 408.3,187.1 408.7,191.2 409.1,190.2 409.5,183.3 409.9,174.9 410.3,168.4 410.7,162.6 411.1,157.1 411.5,156.4 411.9,162.8 412.3,173.1 412.7,182.9 413.1,191.3 413.5,197 413.9,195.8 414.3,186.9 414.7,175.7 415.1,166.7 415.5,159.4 415.9,153.8 416.3,153.8 416.7,161.5 417.1,173 417.5,183.6 417.9,192.2 418.3,197.1 418.7,194.7 419.1,185.4 419.5,175.2 419.9,168.1 420.3,162.3 420.7,157.4 421.1,157.3 421.5,163.8 421.9,173.3 422.3,182 422.7,189.9 423.1,195.2 423.5,193.6 423.9,185 424.3,175.2 424.7,167.9 425.1,161.7 425.5,156.2 425.9,155.7 426.3,162.3 426.7,172.7 427.1,183 427.5,192 427.9,197.2 428.3,195.1 428.7,186.1 429.1,175.5 429.5,167.3 429.9,160.8 430.3,155.6 430.7,155 431.1,161.6 431.5,172.4 431.9,183.4 432.3,192.7 432.7,198.5 433.1,197 433.5,187.7 433.9,175.9 434.3,166.3 434.7,159.6 435.1,155.3 435.5,155.5 435.9,161.8 436.3,172.3 436.7,183.6 437.2,193.3 437.6,198.4 438,195.9 438.4,186.6 438.8,175.7 439.2,166.7 439.6,159.4 440,154.1 440.4,154 440.8,160.8 441.2,172 441.6,183.2 442,191.8 442.4,195.9 442.8,193.6 443.2,185.8 443.6,175.8 444,166.7 444.4,159.1 444.8,153.6 445.2,153.2 445.6,159.9 446,171.7 446.4,184.1 446.8,193.7 447.2,198.3 447.6,196 448,187.2 448.4,176 448.8,166.3 449.2,158.9 449.6,153.8 450,153.7 450.4,160.3 450.8,171.8 451.2,184.6 451.6,195.8 452,202 452.4,199.9 452.8,189.6 453.2,176.3 453.6,165.1 454,157.1 454.4,152.7 454.8,153.5 455.2,160.5 455.6,171.8 456,183.8 456.4,193.3 456.8,197.2 457.2,194.1 457.6,185.8 458,175.9 458.4,166.9 458.8,159.5 459.2,154.8 459.6,155 460,161.1 460.4,171.8 460.8,183.4 461.2,192.5 461.6,196.3 462,193.6 462.4,185.8 462.8,176.2 463.2,167 463.6,159.2 464,153.6 464.4,152.9 464.8,159.3 465.2,171.6 465.6,185.5 466,196.8 466.4,202.2 466.8,199.7 467.3,190.1 467.7,177.1 468.1,165 468.5,155.9 468.9,151 469.3,152.5 469.7,161 470.1,172.8 470.5,184.2 470.9,193.4 471.3,198.4 471.7,196.5 472.1,188 472.5,177 472.9,166.8 473.3,158.1 473.7,152.3 474.1,152.9 474.5,161 474.9,173.4 475.3,185.8 475.7,196.5 476.1,203.2 476.5,201.6 476.9,191.2 477.3,177.7 477.7,166.9 478.1,159.2 478.5,154 478.9,154.4 479.3,162.4 479.7,174.5 480.1,186.6 480.5,197.4 480.9,204.9 481.3,203.7 481.7,192.7 482.1,178.3 482.5,166.4 482.9,156.9 483.3,150.5 483.7,151.7 484.1,161.7 484.5,175.1 484.9,186.8 485.3,196.8 485.7,203.8 486.1,202.8 486.5,192.5 486.9,178.6 487.3,166.9 487.7,157.9 488.1,151.9 488.5,152.5 488.9,161.5 489.3,175.1 489.7,188.2 490.1,199.1 490.5,205.6 490.9,203.8 491.3,193.2 491.7,179.3 492.1,167.2 492.5,157.4 492.9,151.3 493.3,152.1 493.7,161.3 494.1,175.1 494.5,188.5 494.9,198.9 495.3,204.9 495.7,203.3 496.1,193.5 496.5,179.9 496.9,167.6 497.4,158.3 497.8,152.8 498.2,154 498.6,163.1 499,176 499.4,187.9 499.8,197.3 500.2,203.1 500.6,201.9 501,192.8 501.4,180.1 501.8,168.1 502.2,157.7 502.6,150.9 503,152.3 503.4,163 503.8,176.8 504.2,188.8 504.6,199.2 505,206.8 505.4,206 505.8,195.2 506.2,180.5 506.6,167.9 507,157.6 507.4,150.3 507.8,150.8 508.2,161.3 508.6,176.5 509,190.4 509.4,201.3 509.8,208.1 510.2,206.5 510.6,195.6 511,180.8 511.4,167.1 511.8,155.3 512.2,147.6 512.6,149 513,160.2 513.4,175.9 513.8,191 514.2,203.5 514.6,210.3 515,207.3 515.4,195.3 515.8,180.5 516.2,167.3 516.6,155.8 517,148.3 517.4,149.8 517.8,161 518.2,176 518.6,189.9 519,202.3 519.4,211.3 519.8,211 520.2,198.9 520.6,181.1 521,165 521.4,152.6 521.8,145.3 522.2,147.5 522.6,160 523,176.2 523.4,190 523.8,200.9 524.2,208.2 524.6,207.2 525,196 525.4,180.7 525.8,167.3 526.2,155.9 526.6,147 527,146.3 527.5,157.5 527.9,175.7 528.3,193.6 528.7,208.1 529.1,216.3 529.5,213.3 529.9,199 530.3,181.2 530.7,166.6 531.1,155.3 531.5,147.5 531.9,148.3 532.3,159.7 532.7,176.4 533.1,192.9 533.5,207.8 533.9,218.3 534.3,217.3 534.7,203 535.1,182.6 535.5,164.4 535.9,151 536.3,143.7 536.7,145.8 537.1,158.2 537.5,176.1 537.9,193.9 538.3,208.7 538.7,217.3 539.1,215.6 539.5,202.9 539.9,183.5 540.3,163.3 540.7,146.3 541.1,136.6 541.5,138.9 541.9,153.8 542.3,175.5"/>
<rect x="60.7" y="249.8" width="481.60" height="97.30" fill="none" stroke="#000" stroke-width="1.5"/>
<path d="M54.20,249.80H60.7M542.3,249.80H536.30M54.20,294.03H60.7M542.3,294.03H536.30M54.20,347.10H60.7M542.3,347.10H536.30M57.50,271.91H60.7M542.3,271.91H539.10M57.50,320.56H60.7M542.3,320.56H539.10M60.70,347.10V353.60M60.70,249.80V255.80M301.50,347.10V353.60M301.50,249.80V255.80M542.30,347.10V353.60M542.30,249.80V255.80M181.10,347.10V350.50M181.10,249.80V253.00M421.90,347.10V350.50M421.90,249.80V253.00" stroke="#000" stroke-width="1.5" fill="none"/>
<text x="49.9" y="253.50" text-anchor="end" style="font-family:'Liberation Serif',serif;font-size:15px">150</text>
<text x="50.2" y="297.73" text-anchor="end" style="font-family:'Liberation Serif',serif;font-size:15px">0</text>
<text x="51.2" y="350.80" text-anchor="end" style="font-family:'Liberation Serif',serif;font-size:15px">−<tspan dx="-0.5">180</tspan></text>
<text x="62.6" y="265.40" textLength="9.4" lengthAdjust="spacingAndGlyphs" style="font-family:'Liberation Serif',serif;font-size:17px;font-weight:bold;font-style:italic">x</text><text x="70.70" y="270.80" style="font-family:'Liberation Serif',serif;font-size:11.5px;font-weight:bold">3</text>
<polyline fill="none" stroke="#8ccf7a" stroke-width="1.55" stroke-linejoin="round" points="60.7,297 61.1,302.2 61.5,308 61.9,311.2 62.3,308.9 62.7,303.6 63.1,299.2 63.5,295 63.9,289.4 64.3,285.7 64.7,287.4 65.1,292.6 65.5,297.3 65.9,301.7 66.3,306.9 66.7,310.1 67.1,308.3 67.5,303.7 67.9,299.5 68.3,294.9 68.7,289 69.1,285.3 69.5,287.2 69.9,292.6 70.3,297.5 70.7,301.8 71.1,306.3 71.5,308.8 71.9,307.2 72.3,303.4 72.7,299.7 73.1,295.4 73.5,290 73.9,286.8 74.3,288.5 74.7,293.3 75.1,298.1 75.5,302.3 76,306.3 76.4,308.5 76.8,307.5 77.2,304.4 77.6,300.6 78,295.5 78.4,289.1 78.8,284.9 79.2,286.3 79.6,292.2 80,298.5 80.4,303.7 80.8,307.9 81.2,309.8 81.6,308.1 82,304.5 82.4,301 82.8,296.4 83.2,290 83.6,285.3 84,287 84.4,293.1 84.8,298.9 85.2,303 85.6,307 86,309.5 86.4,308 86.8,304.2 87.2,300.8 87.6,296.1 88,288.5 88.4,282.6 88.8,284.4 89.2,291.8 89.6,298.4 90,302.8 90.4,307.4 90.8,310.2 91.2,308.2 91.6,303.7 92,300.3 92.4,296 92.8,288.8 93.2,283.8 93.6,286.4 94,293.1 94.4,298.1 94.8,302.1 95.2,307.5 95.6,311.2 96,309.3 96.4,304.1 96.8,300 97.2,295.4 97.6,288.5 98,283.9 98.4,286.3 98.8,292.7 99.2,297.9 99.6,302.2 100,307.4 100.4,311 100.8,309.7 101.2,305.1 101.6,300.3 102,294.8 102.4,287.9 102.8,283.7 103.2,285.9 103.6,292.2 104,298.1 104.4,302.8 104.8,307.3 105.2,309.9 105.6,308.6 106.1,304.8 106.5,300.5 106.9,295.1 107.3,288.8 107.7,284.9 108.1,286.5 108.5,292.1 108.9,298 109.3,303.2 109.7,308 110.1,310.7 110.5,309.4 110.9,305.3 111.3,300.4 111.7,294.7 112.1,288.5 112.5,284.9 112.9,286.9 113.3,292.5 113.7,298 114.1,302.8 114.5,307.4 114.9,310.2 115.3,308.8 115.7,304.8 116.1,300.4 116.5,295.2 116.9,288.6 117.3,284.4 117.7,286.2 118.1,292.3 118.5,298.3 118.9,303.2 119.3,307.7 119.7,310 120.1,308.3 120.5,304.4 120.9,300.8 121.3,296.1 121.7,289.4 122.1,285 122.5,287 122.9,293.2 123.3,298.8 123.7,302.9 124.1,307 124.5,309.5 124.9,308.3 125.3,304.8 125.7,301 126.1,295.9 126.5,288.8 126.9,284.2 127.3,286.6 127.7,293.4 128.1,299.1 128.5,302.6 128.9,306.2 129.3,308.4 129.7,307.2 130.1,304.1 130.5,301 130.9,296.2 131.3,289.1 131.7,284.5 132.1,286.6 132.5,293 132.9,298.8 133.3,303.3 133.7,308.1 134.1,310.8 134.5,308.9 134.9,304.6 135.3,300.7 135.7,295.8 136.2,288.7 136.6,283.8 137,285.9 137.4,292.5 137.8,298.5 138.2,303.1 138.6,307.9 139,310.8 139.4,309.2 139.8,304.9 140.2,300.8 140.6,295.8 141,288.3 141.4,282.6 141.8,284.1 142.2,291.3 142.6,298.5 143,304.1 143.4,309.2 143.8,312 144.2,309.9 144.6,305.4 145,301.3 145.4,295.7 145.8,287.3 146.2,281.6 146.6,284.4 147,292.5 147.4,299.1 147.8,303.5 148.2,307.7 148.6,310 149,308.1 149.4,304.4 149.8,301.3 150.2,296.6 150.6,289.4 151,284.2 151.4,285.8 151.8,292.3 152.2,299 152.6,303.9 153,307.2 153.4,308.4 153.8,307.2 154.2,304.7 154.6,301.2 155,295.7 155.4,289 155.8,284.9 156.2,286.4 156.6,292.1 157,298.5 157.4,303.8 157.8,307.9 158.2,309.8 158.6,308.8 159,305.5 159.4,300.9 159.8,294.7 160.2,287.4 160.6,283 161,284.7 161.4,291.1 161.8,298.1 162.2,304.2 162.6,309.5 163,312.4 163.4,310.8 163.8,306.1 164.2,300.9 164.6,295.1 165,288.4 165.4,284.3 165.8,286.4 166.3,292.5 166.7,298.3 167.1,303.5 167.5,309 167.9,312.5 168.3,310.8 168.7,305.8 169.1,300.7 169.5,295.2 169.9,288.4 170.3,283.9 170.7,285.8 171.1,292.1 171.5,298.2 171.9,303.1 172.3,307.9 172.7,310.5 173.1,309 173.5,305 173.9,300.6 174.3,294.7 174.7,287.8 175.1,284 175.5,286.3 175.9,292.2 176.3,298.1 176.7,303.4 177.1,308.8 177.5,311.8 177.9,310.5 178.3,305.9 178.7,300.6 179.1,294.9 179.5,289.1 179.9,285.7 180.3,287.3 180.7,292.5 181.1,298 181.5,303.4 181.9,309 182.3,312.4 182.7,311 183.1,306 183.5,300.5 183.9,294.6 184.3,287.8 184.7,283.6 185.1,285.6 185.5,291.9 185.9,297.9 186.3,302.9 186.7,308.4 187.1,312.3 187.5,311.2 187.9,306.2 188.3,300.5 188.7,294.1 189.1,286.7 189.5,282.4 189.9,284.9 190.3,291.8 190.7,297.8 191.1,302.7 191.5,307.9 191.9,311.5 192.3,310.2 192.7,305.5 193.1,300.4 193.5,294.6 193.9,287.7 194.3,283.3 194.7,285.6 195.1,292.2 195.5,298.1 195.9,303 196.4,308.6 196.8,312.2 197.2,310.5 197.6,305.6 198,300.8 198.4,295 198.8,287 199.2,281.6 199.6,284 200,291.6 200.4,298.6 200.8,303.5 201.2,308.1 201.6,310.6 202,308.7 202.4,304.7 202.8,301.2 203.2,296.4 203.6,288.5 204,282.7 204.4,284.6 204.8,292 205.2,299.1 205.6,304.5 206,309.6 206.4,312.2 206.8,310.1 207.2,305.6 207.6,301.7 208,295.9 208.4,287.2 208.8,281.4 209.2,284.2 209.6,292.5 210,299.3 210.4,303.5 210.8,307.6 211.2,310.6 211.6,309.6 212,305.8 212.4,301.6 212.8,295.3 213.2,286 213.6,279.6 214,282.4 214.4,291.2 214.8,298.8 215.2,303.9 215.6,309 216,312.3 216.4,310.6 216.8,305.9 217.2,301.2 217.6,295.4 218,287.3 218.4,281.9 218.8,284.4 219.2,291.9 219.6,298.5 220,303.2 220.4,308.1 220.8,311.4 221.2,310 221.6,305.7 222,300.8 222.4,294 222.8,285.1 223.2,279.8 223.6,282.9 224,291.1 224.4,298 224.8,303.1 225.2,308.7 225.6,312.7 226,311.5 226.5,306.3 226.9,300.6 227.3,294.4 227.7,286.9 228.1,282.2 228.5,284.4 228.9,291.3 229.3,297.9 229.7,303.4 230.1,309.1 230.5,312.6 230.9,310.5 231.3,305.1 231.7,300.4 232.1,295.7 232.5,289.2 232.9,284.5 233.3,286 233.7,292.1 234.1,298 234.5,303.2 234.9,308.9 235.3,311.9 235.7,309.3 236.1,304.2 236.5,300.3 236.9,295.9 237.3,288.8 237.7,283.4 238.1,285.1 238.5,291.8 238.9,298.2 239.3,303.7 239.7,309.8 240.1,313.5 240.5,311.5 240.9,306.2 241.3,301 241.7,295.1 242.1,287.6 242.5,282.8 242.9,284.8 243.3,291.6 243.7,298.3 244.1,304.3 244.5,310.1 244.9,313.2 245.3,311.3 245.7,306.5 246.1,301.2 246.5,294.3 246.9,285.8 247.3,280.5 247.7,282.9 248.1,290.5 248.5,298.3 248.9,304.7 249.3,310.4 249.7,313.8 250.1,312.7 250.5,308 250.9,301.6 251.3,293.6 251.7,284.8 252.1,279.8 252.5,282.4 252.9,290.3 253.3,298.4 253.7,304.9 254.1,309.8 254.5,312.1 254.9,310.8 255.3,306.8 255.7,301.4 256.1,294.6 256.6,287.1 257,282.4 257.4,284 257.8,290.6 258.2,298.2 258.6,305 259,310.7 259.4,313.9 259.8,312.6 260.2,307.7 260.6,301.3 261,293.9 261.4,285.9 261.8,281.2 262.2,283.2 262.6,290.4 263,298.1 263.4,304.6 263.8,310.4 264.2,313.7 264.6,312.3 265,307.4 265.4,301.2 265.8,293.8 266.2,285.4 266.6,280.4 267,282.6 267.4,290.1 267.8,297.9 268.2,304.3 268.6,309.4 269,312 269.4,310.4 269.8,306.1 270.2,300.8 270.6,293.9 271,285.5 271.4,280.3 271.8,282.1 272.2,289.3 272.6,297.5 273,305.2 273.4,311.8 273.8,315 274.2,312.9 274.6,307.4 275,300.9 275.4,293.8 275.8,286.2 276.2,281.6 276.6,283.1 277,289.7 277.4,297.7 277.8,305.1 278.2,311.3 278.6,314.8 279,313.5 279.4,308.4 279.8,301.3 280.2,293.3 280.6,285.3 281,281.1 281.4,283.4 281.8,290.3 282.2,297.9 282.6,304.7 283,310.3 283.4,313.1 283.8,311.3 284.2,306.6 284.6,301 285,293.6 285.4,284.6 285.8,278.9 286.2,281.1 286.7,289.3 287.1,297.8 287.5,304.9 287.9,311.3 288.3,314.9 288.7,312.8 289.1,307.1 289.5,301.1 289.9,294.2 290.3,285.7 290.7,280.4 291.1,283.3 291.5,291.3 291.9,298.4 292.3,303.7 292.7,309.3 293.1,312.9 293.5,311.6 293.9,306.8 294.3,301.2 294.7,294.1 295.1,285.6 295.5,280.8 295.9,283.5 296.3,290.8 296.7,298 297.1,304.6 297.5,311 297.9,314.7 298.3,313.6 298.7,308.5 299.1,301.2 299.5,292.6 299.9,284.3 300.3,280.3 300.7,282.5 301.1,289.2 301.5,297.5 301.9,305.3 302.3,311.5 302.7,314.7 303.1,313.7 303.5,308.5 303.9,301.1 304.3,293.2 304.7,286 305.1,281.4 305.5,282.1 305.9,288.6 306.3,297.6 306.7,305.5 307.1,310.8 307.5,313.1 307.9,311.8 308.3,307.4 308.7,301.5 309.1,294 309.5,285.8 309.9,280.7 310.3,282.7 310.7,290.4 311.1,298.6 311.5,304.6 311.9,309.3 312.3,312 312.7,310.7 313.1,306.5 313.5,301.7 313.9,295.1 314.3,286.3 314.7,280.3 315.1,282.8 315.5,291.2 315.9,298.9 316.3,304.2 316.8,309.5 317.2,313.1 317.6,311.8 318,307 318.4,301.7 318.8,294.4 319.2,283.9 319.6,276.8 320,280 320.4,289.9 320.8,298.5 321.2,304.2 321.6,309.6 322,312.9 322.4,310.8 322.8,305.7 323.2,301.1 323.6,295.4 324,286.9 324.4,280.9 324.8,282.9 325.2,290.7 325.6,298.2 326,304.6 326.4,311 326.8,314.7 327.2,312.5 327.6,306.9 328,301.2 328.4,294.6 328.8,286.2 329.2,281 329.6,283.8 330,291.7 330.4,298.5 330.8,303.5 331.2,308.7 331.6,312.2 332,310.7 332.4,305.9 332.8,301 333.2,295.2 333.6,287.6 334,282.6 334.4,284.4 334.8,291.1 335.2,298 335.6,304.6 336,311.1 336.4,314.8 336.8,312.9 337.2,307.3 337.6,301 338,293.7 338.4,285.5 338.8,280.6 339.2,282.6 339.6,289.5 340,297.5 340.4,305.1 340.8,311.8 341.2,315.1 341.6,313 342,307.4 342.4,300.8 342.8,293.6 343.2,286.3 343.6,282 344,283.7 344.4,290.1 344.8,297.4 345.2,304.5 345.6,311.4 346,315.6 346.4,314.1 346.9,308 347.3,300.7 347.7,293.1 348.1,285.2 348.5,280.7 348.9,283 349.3,290 349.7,297.2 350.1,304.4 350.5,312.2 350.9,317.2 351.3,315.4 351.7,308.5 352.1,300.7 352.5,292.7 352.9,284.7 353.3,280.4 353.7,283.2 354.1,290.3 354.5,297.3 354.9,303.8 355.3,310.8 355.7,315.3 356.1,314.1 356.5,308.2 356.9,300.7 357.3,292.4 357.7,284.1 358.1,279.5 358.5,281.4 358.9,288.2 359.3,296.8 359.7,306.2 360.1,315.1 360.5,319.5 360.9,316.8 361.3,309.5 361.7,301.1 362.1,292.4 362.5,284 362.9,279.3 363.3,281.2 363.7,288.2 364.1,297.2 364.5,306.7 364.9,315 365.3,318.6 365.7,315.5 366.1,308.5 366.5,301.3 366.9,294 367.3,286 367.7,280.9 368.1,282.5 368.5,289.7 368.9,298.1 369.3,305.8 369.7,312.6 370.1,316.2 370.5,314.4 370.9,308.8 371.3,301.9 371.7,293.4 372.1,284 372.5,278.3 372.9,280.7 373.3,289.1 373.7,298.2 374.1,305.8 374.5,311.5 374.9,313.9 375.3,311.9 375.7,307.1 376.1,301.5 376.5,294.6 377,286.6 377.4,282 377.8,284.3 378.2,291.2 378.6,298.4 379,305.3 379.4,312.3 379.8,316.6 380.2,314.9 380.6,308.9 381,301.7 381.4,293.7 381.8,284.9 382.2,279.2 382.6,281.3 383,289.4 383.4,298 383.8,305.5 384.2,312.6 384.6,316.9 385,314.7 385.4,308.1 385.8,301.3 386.2,294.1 386.6,285.1 387,279.1 387.4,281.5 387.8,289.6 388.2,297.8 388.6,305.5 389,313.7 389.4,318.5 389.8,315.6 390.2,308.2 390.6,301.2 391,293.9 391.4,284.7 391.8,278.7 392.2,281.5 392.6,290 393,297.9 393.4,305.1 393.8,313.4 394.2,318.9 394.6,316.7 395,309.1 395.4,301.5 395.8,294.3 396.2,286.2 396.6,281.1 397,283.1 397.4,290.3 397.8,298.2 398.2,306.4 398.6,314.9 399,319.7 399.4,317 399.8,309.7 400.2,302.1 400.6,293.8 401,284.1 401.4,277.7 401.8,279.6 402.2,288.1 402.6,298.1 403,307.6 403.4,315.7 403.8,319.6 404.2,317.3 404.6,310.6 405,302.2 405.4,293.3 405.8,285.3 406.2,281.1 406.6,282.7 407.1,289.1 407.5,298 407.9,307.2 408.3,314.8 408.7,318.3 409.1,317 409.5,311.2 409.9,302.2 410.3,291.9 410.7,283.2 411.1,279.7 411.5,282.3 411.9,289.2 412.3,298 412.7,306.9 413.1,314.5 413.5,318.5 413.9,317.1 414.3,310.9 414.7,302.1 415.1,292.7 415.5,285 415.9,281.4 416.3,283.1 416.7,289.4 417.1,298.1 417.5,306.8 417.9,313.4 418.3,316.4 418.7,315.6 419.1,310.8 419.5,302.5 419.9,292.2 420.3,283 420.7,278.2 421.1,279.9 421.5,287.6 421.9,298.3 422.3,308 422.7,314.2 423.1,316.5 423.5,315.3 423.9,310.8 424.3,303.1 424.7,292.9 425.1,283 425.5,277.5 425.9,279.3 426.3,287.7 426.7,298.8 427.1,309 427.5,316.5 427.9,320.1 428.3,318.5 428.7,312.2 429.1,303.4 429.5,293.6 429.9,284.6 430.3,279.7 430.7,281.8 431.1,289.6 431.5,299.2 431.9,307.6 432.3,314.4 432.7,318.2 433.1,317.4 433.5,312 433.9,303.5 434.3,293.6 434.7,284.3 435.1,279.4 435.5,281.5 435.9,289.4 436.3,299.3 436.7,308.9 437.2,317.2 437.6,321.7 438,320 438.4,313.2 438.8,304 439.2,293.8 439.6,283.7 440,277.8 440.4,279.9 440.8,288.6 441.2,299.4 441.6,310.2 442,320.3 442.4,326 442.8,323.4 443.2,314.6 443.6,304.3 444,294.1 444.4,284.1 444.8,278.5 445.2,281.7 445.6,290.8 446,300 446.4,308.1 446.8,316.5 447.2,321.6 447.6,319.5 448,312.4 448.4,304.2 448.8,294.4 449.2,283.3 449.6,277 450,280.1 450.4,289.7 450.8,299.9 451.2,309.8 451.6,319.2 452,324.2 452.4,321.6 452.8,314.1 453.2,304.8 453.6,293.8 454,282.4 454.4,276.6 454.8,280.4 455.2,290.2 455.6,300.4 456,310 456.4,318.9 456.8,323.2 457.2,320.3 457.6,312.8 458,304.7 458.4,296 458.8,286.6 459.2,281.3 459.6,283.9 460,291.9 460.4,300.9 460.8,310.3 461.2,319.7 461.6,325.2 462,323.6 462.4,316.3 462.8,306.1 463.2,293.6 463.6,281.1 464,274.7 464.4,278.4 464.8,289 465.2,301.2 465.6,312.1 466,320.5 466.4,324.1 466.8,321.8 467.3,315.2 467.7,306.3 468.1,295.3 468.5,283.4 468.9,276 469.3,278.4 469.7,289 470.1,301.4 470.5,311.8 470.9,319.8 471.3,324.3 471.7,323 472.1,316.2 472.5,306.4 472.9,294.6 473.3,282.2 473.7,274.6 474.1,277.2 474.5,288.1 474.9,300.9 475.3,312.3 475.7,321.9 476.1,327 476.5,324.4 476.9,316.1 477.3,306.1 477.7,294.8 478.1,282.5 478.5,275.4 478.9,278.7 479.3,289.3 479.7,301 480.1,312.4 480.5,323.5 480.9,329.7 481.3,326.7 481.7,317.4 482.1,306.4 482.5,294.5 482.9,282.2 483.3,274.9 483.7,277.8 484.1,288.4 484.5,301.1 484.9,313.4 485.3,323.6 485.7,328.2 486.1,325.2 486.5,316.9 486.9,306.6 487.3,294.7 487.7,282.5 488.1,275.3 488.5,277.9 488.9,288.5 489.3,301.2 489.7,312.9 490.1,322.3 490.5,326.8 490.9,324.3 491.3,316.4 491.7,306.4 492.1,295.5 492.5,285.2 492.9,279.6 493.3,282.5 493.7,291.5 494.1,301.7 494.5,311.8 494.9,322 495.3,328.5 495.7,326.5 496.1,317.5 496.5,306.5 496.9,295.2 497.4,283.8 497.8,276.6 498.2,278.8 498.6,288.7 499,301 499.4,313.7 499.8,326.4 500.2,333.8 500.6,330.4 501,319 501.4,306.5 501.8,294.6 502.2,283.4 502.6,276.8 503,279.3 503.4,288.9 503.8,300.8 504.2,313.2 504.6,325.4 505,332.5 505.4,330 505.8,319.6 506.2,306.7 506.6,293 507,280 507.4,273 507.8,276.7 508.2,288.1 508.6,300.8 509,313.7 509.4,326.6 509.8,334.4 510.2,331.6 510.6,320.3 511,307.1 511.4,294 511.8,280.7 512.2,272.4 512.6,275.2 513,287 513.4,301.4 513.8,315.6 514.2,328.6 514.6,335.5 515,332 515.4,321.3 515.8,308.4 516.2,293.6 516.6,277.6 517,267.3 517.4,269.9 517.8,283.7 518.2,301.6 518.6,318.8 519,332.6 519.4,338.7 519.8,334.8 520.2,323.6 520.6,309.3 521,294.1 521.4,280.8 521.8,274.1 522.2,277.8 522.6,289.3 523,302.8 523.4,315.2 523.8,325.7 524.2,331.9 524.6,330.5 525,321.9 525.4,308.9 525.8,292.8 526.2,276.6 526.6,267.2 527,270.3 527.5,283.8 527.9,301.1 528.3,318.3 528.7,333.3 529.1,341.3 529.5,338.3 529.9,325.7 530.3,308.7 530.7,290.8 531.1,275.4 531.5,268.5 531.9,273.5 532.3,286.5 532.7,301.1 533.1,315.1 533.5,328 533.9,336.3 534.3,334.8 534.7,324.1 535.1,308.1 535.5,290.4 535.9,274.5 536.3,266.4 536.7,269.7 537.1,282.3 537.5,299.9 537.9,319 538.3,334.9 538.7,341.9 539.1,337.8 539.5,325.6 539.9,308.6 540.3,289.4 540.7,271.9 541.1,263.1 541.5,266.9 541.9,281 542.3,300.4"/>
<text x="60.70" y="368.2" text-anchor="middle" style="font-family:'Liberation Serif',serif;font-size:15px">0</text>
<text x="301.50" y="368.2" text-anchor="middle" style="font-family:'Liberation Serif',serif;font-size:15px">1</text>
<text x="542.30" y="368.2" text-anchor="middle" style="font-family:'Liberation Serif',serif;font-size:15px">2</text>
<text x="278" y="385.7" textLength="46.3" lengthAdjust="spacingAndGlyphs" style="font-family:'Liberation Serif',serif;font-size:16px">Time/s</text>
<text transform="translate(15.6,245.6) rotate(-90)" textLength="122" lengthAdjust="spacingAndGlyphs" style="font-family:'Liberation Serif',serif;font-size:16px">Displacement/um</text>
</svg>
</body></html>
